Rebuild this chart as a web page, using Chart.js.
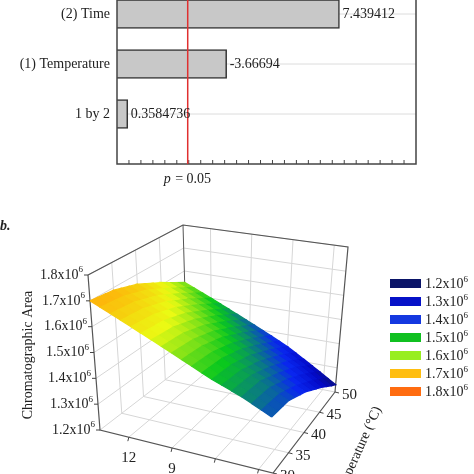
<!DOCTYPE html>
<html>
<head>
<meta charset="utf-8">
<script src="https://cdn.jsdelivr.net/npm/chart.js@4/dist/chart.umd.min.js"></script>
<style>
  body { margin: 0; width: 474px; height: 474px; overflow: hidden; background: #fff; position: relative; font-family: "Liberation Serif", serif; }
  canvas { position: absolute; left: 0; }
  #pareto { top: -40px; }
  #surface { top: 195px; }
  #legend { position: absolute; left: 390px; top: 274px; font-size: 14px; color: #222; }
  .row { height: 18px; display: flex; align-items: center; white-space: nowrap; }
  .sw { width: 31px; height: 9px; margin-right: 4px; }
  sup { font-size: 9px; }
</style>
</head>
<body>
<canvas id="pareto" width="474" height="240"></canvas>
<canvas id="surface" width="474" height="279"></canvas>
<div id="legend"></div>
<script>
// (a) standardized effects
const effectNames = ['(2) Time', '(1) Temperature', '1 by 2'];
const effectValues = [7.439412, -3.66694, 0.3584736];
const pLine = 2.365;

// (b) response surface
const times = [2, 4, 6, 8, 10, 12, 14];
const temps = [30, 35, 40, 45, 50];
const areaByTime = [ // x10^6, one row per time, columns follow temps
  [1.41, 1.40, 1.36, 1.30, 1.23],
  [1.46, 1.45, 1.41, 1.36, 1.29],
  [1.50, 1.49, 1.46, 1.41, 1.35],
  [1.55, 1.54, 1.51, 1.46, 1.40],
  [1.60, 1.59, 1.56, 1.51, 1.45],
  [1.65, 1.64, 1.61, 1.56, 1.50],
  [1.70, 1.69, 1.66, 1.61, 1.55]
];
const zTicks = [1.2, 1.3, 1.4, 1.5, 1.6, 1.7, 1.8];
const timeTicks = [12, 9, 6, 3];
const tempTicks = [50, 45, 40, 35, 30];
const legendLevels = [1.2, 1.3, 1.4, 1.5, 1.6, 1.7, 1.8];
const legendColors = ['#0a1468', '#0612c8', '#1438e0', '#10c020', '#98ee20', '#ffbe10', '#ff6c10'];

const FONT = '"Liberation Serif", serif';

// ---------- top: pareto chart ----------
const paretoDeco = {
  id: 'paretoDeco',
  beforeDatasetsDraw(chart) {
    const { ctx, chartArea: a, scales: { y } } = chart;
    ctx.save();
    ctx.strokeStyle = '#dcdcdc';
    ctx.lineWidth = 1;
    effectNames.forEach((n, i) => {
      const py = y.getPixelForValue(i + 1);
      ctx.beginPath(); ctx.moveTo(a.left, py); ctx.lineTo(a.right, py); ctx.stroke();
    });
    ctx.restore();
  },
  afterDatasetsDraw(chart) {
    const { ctx, chartArea: a, scales: { x, y } } = chart;
    ctx.save();
    ctx.strokeStyle = '#444';
    ctx.lineWidth = 1.5;
    ctx.beginPath();
    ctx.moveTo(a.left, a.top); ctx.lineTo(a.left, a.bottom); ctx.lineTo(a.right, a.bottom); ctx.lineTo(a.right, a.top);
    ctx.stroke();
    ctx.lineWidth = 1;
    for (let v = 0.4; v < 10; v += 0.4) {
      const px = x.getPixelForValue(v);
      ctx.beginPath(); ctx.moveTo(px, a.bottom); ctx.lineTo(px, a.bottom - 4); ctx.stroke();
    }
    const rx = x.getPixelForValue(pLine);
    ctx.strokeStyle = '#e03030';
    ctx.lineWidth = 1.5;
    ctx.beginPath(); ctx.moveTo(rx, a.top); ctx.lineTo(rx, a.bottom); ctx.stroke();
    ctx.fillStyle = '#222';
    ctx.font = '14px ' + FONT;
    ctx.textBaseline = 'middle';
    effectNames.forEach((n, i) => {
      const py = y.getPixelForValue(i + 1);
      ctx.textAlign = 'right';
      ctx.fillText(n, a.left - 7, py);
      ctx.textAlign = 'left';
      ctx.fillText(String(effectValues[i]), x.getPixelForValue(Math.abs(effectValues[i])) + 3, py);
    });
    ctx.textAlign = 'left';
    ctx.font = 'italic 14px ' + FONT;
    ctx.fillText('p', rx - 24, a.bottom + 15);
    ctx.font = '14px ' + FONT;
    ctx.fillText(' = 0.05', rx - 16, a.bottom + 15);
    ctx.restore();
  }
};

new Chart(document.getElementById('pareto'), {
  type: 'bar',
  data: {
    datasets: [{
      data: effectValues.map((v, i) => ({ x: Math.abs(v), y: i + 1 })),
      backgroundColor: '#c8c8c8',
      borderColor: '#333',
      borderWidth: 1.5,
      barThickness: 29
    }]
  },
  options: {
    indexAxis: 'y',
    responsive: false,
    animation: false,
    layout: { padding: { left: 117, right: 58, top: 4, bottom: 36 } },
    plugins: { legend: { display: false }, tooltip: { enabled: false } },
    scales: {
      x: { type: 'linear', min: 0, max: 10, display: false },
      y: { type: 'linear', min: 0, max: 4, reverse: true, offset: false, display: false }
    }
  },
  plugins: [paretoDeco]
});

// ---------- bottom: 3D response surface ----------
const view = {
  tMin: 2, tMax: 14, TMin: 30, TMax: 50, zMin: 1.2, zMax: 1.8,
  A: [100, 430], B: [273, 473], C: [187, 363], D: [335, 392],   // (tMax,TMin) (tMin,TMin) (tMax,TMax) (tMin,TMax)
  hA: [-12, 155], hB: [-4, 160], hC: [-4, 138], hD: [13, 145]
};
function bil(p, q, r, s, u, v) {
  return (1 - u) * (1 - v) * p + u * (1 - v) * q + (1 - u) * v * r + u * v * s;
}
function proj(t, T, z) {
  const u = (view.tMax - t) / (view.tMax - view.tMin);
  const v = (T - view.TMin) / (view.TMax - view.TMin);
  const w = (z - view.zMin) / (view.zMax - view.zMin);
  const fx = bil(view.A[0], view.B[0], view.C[0], view.D[0], u, v);
  const fy = bil(view.A[1], view.B[1], view.C[1], view.D[1], u, v);
  const dx = bil(view.hA[0], view.hB[0], view.hC[0], view.hD[0], u, v);
  const dy = bil(view.hA[1], view.hB[1], view.hC[1], view.hD[1], u, v);
  return { x: fx + dx * w, y: fy - dy * w };
}

const cmapStops = [[1.2, [10, 16, 96]], [1.3, [4, 10, 200]], [1.38, [10, 40, 240]], [1.5, [10, 200, 30]],
  [1.6, [235, 250, 20]], [1.7, [255, 175, 10]], [1.8, [255, 100, 10]]];
function cmap(z) {
  if (z <= cmapStops[0][0]) return 'rgb(' + cmapStops[0][1] + ')';
  for (let i = 1; i < cmapStops.length; i++) {
    const [z1, c1] = cmapStops[i];
    const [z0, c0] = cmapStops[i - 1];
    if (z <= z1) {
      const f = (z - z0) / (z1 - z0);
      return 'rgb(' + c0.map((c, k) => Math.round(c + (c1[k] - c) * f)).join(',') + ')';
    }
  }
  return 'rgb(' + cmapStops[cmapStops.length - 1][1] + ')';
}

const datasets = [];
function segment(pts, color, width, order) {
  datasets.push({ data: pts, showLine: true, borderColor: color, borderWidth: width, pointRadius: 0, fill: false, order });
}
const gridC = '#d6d6d6', edgeC = '#555';
zTicks.forEach(z => {
  segment([proj(14, 30, z), proj(14, 50, z)], gridC, 1, 20);
  segment([proj(14, 50, z), proj(2, 50, z)], gridC, 1, 20);
});
tempTicks.slice(1, 4).forEach(T => {
  segment([proj(14, T, 1.2), proj(14, T, 1.8)], gridC, 1, 20);
  segment([proj(14, T, 1.2), proj(2, T, 1.2)], gridC, 1, 20);
});
timeTicks.forEach(t => {
  segment([proj(t, 50, 1.2), proj(t, 50, 1.8)], gridC, 1, 20);
  segment([proj(t, 30, 1.2), proj(t, 50, 1.2)], gridC, 1, 20);
});
segment([proj(14, 30, 1.8), proj(14, 30, 1.2), proj(2, 30, 1.2), proj(2, 50, 1.2)], edgeC, 1.2, 10);
segment([proj(14, 30, 1.8), proj(14, 50, 1.8), proj(2, 50, 1.8), proj(2, 50, 1.2)], edgeC, 1.2, 10);
segment([proj(14, 50, 1.8), proj(14, 50, 1.2)], edgeC, 1, 10);

// surface patches (3x3 sub-patches per data cell for smooth shading)
const SUB = 3;
for (let i = 0; i < times.length - 1; i++) {
  for (let j = 0; j < temps.length - 1; j++) {
    const z00 = areaByTime[i][j], z10 = areaByTime[i + 1][j], z01 = areaByTime[i][j + 1], z11 = areaByTime[i + 1][j + 1];
    for (let a = 0; a < SUB; a++) {
      for (let b = 0; b < SUB; b++) {
        const corner = (da, db) => {
          const fa = (a + da) / SUB, fb = (b + db) / SUB;
          return {
            t: times[i] + (times[i + 1] - times[i]) * fa,
            T: temps[j] + (temps[j + 1] - temps[j]) * fb,
            z: bil(z00, z10, z01, z11, fa, fb)
          };
        };
        const cs = [corner(0, 0), corner(1, 0), corner(1, 1), corner(0, 1)];
        const zm = cs.reduce((s, c) => s + c.z, 0) / 4;
        const pts = cs.map(c => proj(c.t, c.T, c.z));
        pts.push(pts[0]);
        const col = cmap(zm);
        datasets.push({ data: pts, showLine: true, borderColor: col, backgroundColor: col, borderWidth: 1.3,
          pointRadius: 0, fill: 'shape', order: 0 });
      }
    }
  }
}

function supText(ctx, base, exp, x, y) {
  ctx.font = '14px ' + FONT;
  const w1 = ctx.measureText(base).width;
  ctx.font = '9px ' + FONT;
  const w2 = ctx.measureText(exp).width;
  const x0 = x - w1 - w2;
  ctx.textAlign = 'left';
  ctx.font = '14px ' + FONT;
  ctx.fillText(base, x0, y);
  ctx.font = '9px ' + FONT;
  ctx.fillText(exp, x0 + w1, y - 5);
}

const surfaceDeco = {
  id: 'surfaceDeco',
  afterDatasetsDraw(chart) {
    const { ctx, scales: { x, y } } = chart;
    const P = p => ({ x: x.getPixelForValue(p.x), y: y.getPixelForValue(p.y) });
    ctx.save();
    ctx.fillStyle = '#222';
    ctx.strokeStyle = '#444';
    ctx.textBaseline = 'middle';
    zTicks.forEach(z => {
      const p = P(proj(14, 30, z));
      ctx.beginPath(); ctx.moveTo(p.x, p.y); ctx.lineTo(p.x - 4, p.y); ctx.stroke();
      supText(ctx, z.toFixed(1) + 'x10', '6', p.x - 5, p.y);
    });
    ctx.font = '15px ' + FONT;
    ctx.textAlign = 'center';
    timeTicks.forEach(t => {
      const p = P(proj(t, 30, 1.2));
      ctx.beginPath(); ctx.moveTo(p.x, p.y); ctx.lineTo(p.x - 1, p.y + 4); ctx.stroke();
      ctx.fillText(String(t), p.x, p.y + 21);
    });
    ctx.textAlign = 'left';
    tempTicks.forEach(T => {
      const p = P(proj(2, T, 1.2));
      ctx.beginPath(); ctx.moveTo(p.x, p.y); ctx.lineTo(p.x + 4, p.y + 1); ctx.stroke();
      ctx.fillText(String(T), p.x + 7, p.y + 3);
    });
    ctx.textAlign = 'center';
    ctx.font = '14px ' + FONT;
    ctx.save();
    ctx.translate(28, y.getPixelForValue(355));
    ctx.rotate(-Math.PI / 2);
    ctx.fillText('Chromatographic Area', 0, 0);
    ctx.restore();
    ctx.save();
    ctx.translate(358, y.getPixelForValue(452));
    ctx.rotate(-1.15);
    ctx.fillText('Temperature (°C)', 0, 0);
    ctx.restore();
    ctx.textAlign = 'left';
    ctx.font = 'italic bold 14px ' + FONT;
    ctx.fillText('b.', 0, y.getPixelForValue(226));
    ctx.restore();
  }
};

new Chart(document.getElementById('surface'), {
  type: 'scatter',
  data: { datasets },
  options: {
    responsive: false,
    animation: false,
    layout: { padding: 0 },
    plugins: { legend: { display: false }, tooltip: { enabled: false } },
    scales: {
      x: { type: 'linear', min: 0, max: 474, display: false },
      y: { type: 'linear', min: 195, max: 474, reverse: true, display: false }
    }
  },
  plugins: [surfaceDeco]
});

const legend = document.getElementById('legend');
legendLevels.forEach((lv, i) => {
  const row = document.createElement('div');
  row.className = 'row';
  row.innerHTML = `<div class="sw" style="background:${legendColors[i]}"></div><span>${lv.toFixed(1)}x10<sup>6</sup></span>`;
  legend.appendChild(row);
});
</script>
</body>
</html>
